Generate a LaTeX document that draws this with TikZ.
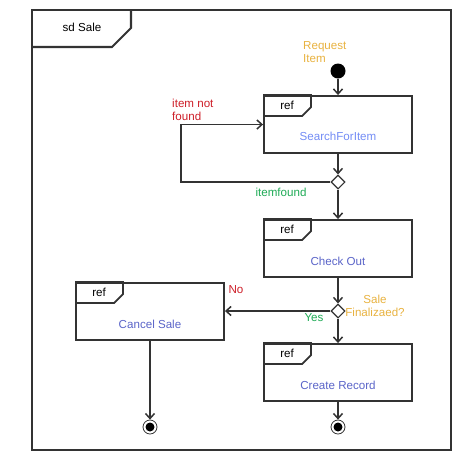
\documentclass[tikz,border=0pt]{standalone}
\usepackage{fontspec}
\setmainfont{Liberation Sans}
\usetikzlibrary{arrows.meta,shapes.geometric}
\definecolor{reqorange}{RGB}{232,178,64}
\definecolor{failred}{RGB}{205,30,40}
\definecolor{okgreen}{RGB}{30,170,85}
\definecolor{lightact}{RGB}{115,140,245}
\definecolor{actblue}{RGB}{90,100,200}
\begin{document}
\begin{tikzpicture}[x=1pt,y=-1pt,>={Straight Barb[length=5pt,width=9pt]},font=\fontsize{11.6}{13.5}\selectfont,
  refbox/.style={draw=black!80,line width=1.9pt,minimum width=148pt,minimum height=57pt,inner sep=0pt},
  reftab/.style={draw=black!80,line width=1.7pt},
  decision/.style={diamond,draw=black!80,fill=white,line width=1.1pt,minimum width=14pt,minimum height=14pt,inner sep=0pt},
  flow/.style={->,draw=black!80,line width=1.5pt},
  endnode/.style={circle,draw=black!80,line width=0.8pt,minimum size=14pt,inner sep=0pt,
    path picture={\fill[black] (path picture bounding box.center) circle (4.5pt);}}]
\useasboundingbox (0,0) rectangle (474,467);
% frame
\draw[draw=black!80,line width=2.1pt] (32,10) rectangle (451,450);
\draw[draw=black!80,line width=2.1pt] (131,10) -- (131,28) -- (112,47) -- (32,47);
\node (title) at (82,27) {sd Sale};
% actions
\node[circle,fill=black,minimum size=15pt,inner sep=0pt] (start) at (338,71) {};
\node[refbox] (srch) at (338,124.5) {};
\node[decision] (dec1) at (338,182) {};
\node[refbox] (chk) at (338,248.5) {};
\node[decision] (dec2) at (338,311) {};
\node[refbox] (cncl) at (150,311.5) {};
\node[refbox] (rec) at (338,372.5) {};
\node[endnode] (end1) at (150,427) {};
\node[endnode] (end2) at (338,427) {};
\foreach \b in {srch,chk,cncl,rec}{
  \draw[reftab] (\b.north west) -- ++(48,0) -- ++(0,12) -- ++(-9,9) -- ++(-39,0);
  \node at ([xshift=24pt,yshift=-10pt]\b.north west) {ref};
}
\node[text=lightact] at ([yshift=-12pt]srch.center) {SearchForItem};
\node[text=actblue] at ([yshift=-13pt]chk.center) {Check Out};
\node[text=actblue] at ([yshift=-13pt]cncl.center) {Cancel Sale};
\node[text=actblue] at ([yshift=-13pt]rec.center) {Create Record};
% labels
\node[text=reqorange,anchor=west,align=left,inner sep=0pt] (reqlbl) at (303,52) {Request\\Item};
\node[text=failred,anchor=west,align=left,inner sep=0pt] (nflbl) at (172,110) {item not\\found};
\node[text=okgreen] (fndlbl) at (281,192) {itemfound};
\node[text=reqorange,align=center,inner sep=0pt] (salelbl) at (375,306) {Sale\\Finalizaed?};
\node[text=okgreen] (yeslbl) at (314,318) {Yes};
\node[text=failred] (nolbl) at (236,290) {No};
% connectors
\coordinate (loopc) at (181,182);
\draw[flow] (start) -- (srch.north);
\draw[flow] (srch.south) -- (dec1.north);
\draw[flow] (dec1.west) -- (loopc) |- (srch.west);
\draw[flow] (dec1.south) -- (chk.north);
\draw[flow] (chk.south) -- (dec2.north);
\draw[flow] (dec2.west) -- (dec2.west -| cncl.east);
\draw[flow] (dec2.south) -- (rec.north);
\draw[flow] (cncl.south) -- (end1.north);
\draw[flow] (rec.south) -- (end2.north);
\end{tikzpicture}
\end{document}
